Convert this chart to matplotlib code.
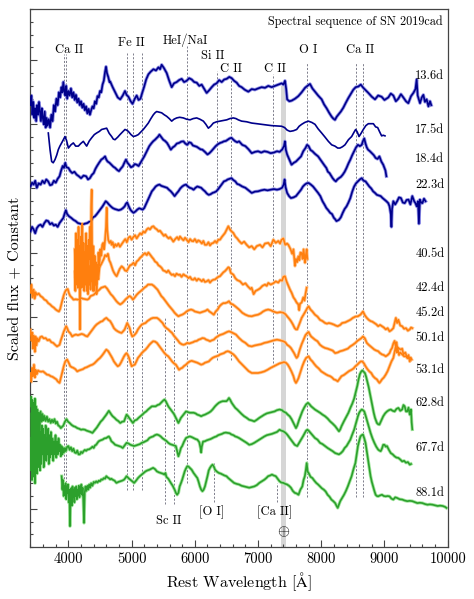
import numpy as np
import matplotlib
matplotlib.use('Agg')
import matplotlib.pyplot as plt
from matplotlib.ticker import MultipleLocator
from matplotlib.transforms import blended_transform_factory

plt.rcParams['font.family'] = 'serif'
plt.rcParams['font.serif'] = ['cmr10']
plt.rcParams['mathtext.fontset'] = 'cm'
plt.rcParams['axes.unicode_minus'] = False

# spectra as (rest wavelength [A], scaled flux + constant)
s13_6 = [(3400, 6.30), (3415, 6.45), (3430, 6.15), (3445, 6.35), (3460, 6.10), (3475, 6.25), (3490, 6.05),
         (3505, 6.30), (3520, 6.15), (3535, 6.35), (3550, 6.20), (3565, 6.05), (3580, 6.25), (3595, 6.10),
         (3610, 6.00), (3625, 6.20), (3640, 5.95), (3655, 6.10), (3670, 5.98), (3690, 6.08), (3710, 5.95),
         (3730, 6.15), (3750, 6.05), (3770, 6.30), (3790, 6.20), (3810, 6.40), (3830, 6.30), (3850, 6.50),
         (3870, 6.42), (3890, 6.58), (3905, 6.50), (3920, 6.66), (3935, 6.52), (3950, 6.45), (3965, 6.60),
         (3980, 6.40), (4000, 6.52), (4020, 6.45), (4040, 6.56), (4060, 6.42), (4080, 6.50), (4100, 6.38),
         (4120, 6.46), (4140, 6.34), (4160, 6.40), (4180, 6.30), (4200, 6.36), (4220, 6.26), (4240, 6.32),
         (4260, 6.22), (4280, 6.28), (4300, 6.17), (4320, 6.24), (4340, 6.15), (4360, 6.22), (4380, 6.28),
         (4400, 6.25), (4420, 6.36), (4440, 6.32), (4460, 6.44), (4480, 6.42), (4500, 6.52), (4520, 6.50),
         (4540, 6.62), (4560, 6.68), (4580, 6.82), (4595, 6.90), (4610, 6.80), (4630, 6.74), (4650, 6.66),
         (4660, 6.67), (4700, 6.58), (4740, 6.50), (4780, 6.42), (4820, 6.39), (4860, 6.45), (4895, 6.52),
         (4920, 6.46), (4950, 6.43), (4985, 6.36), (5015, 6.32), (5050, 6.40), (5080, 6.45), (5110, 6.38),
         (5140, 6.40), (5170, 6.50), (5196, 6.58), (5230, 6.70), (5265, 6.78), (5300, 6.82), (5345, 6.86),
         (5385, 6.84), (5425, 6.89), (5450, 6.86), (5475, 6.93), (5510, 6.88), (5555, 6.80), (5595, 6.68),
         (5634, 6.58), (5670, 6.64), (5713, 6.66), (5750, 6.69), (5792, 6.71), (5830, 6.66), (5871, 6.68),
         (5910, 6.72), (5950, 6.70), (5990, 6.66), (6030, 6.65), (6070, 6.60), (6108, 6.62), (6150, 6.55),
         (6187, 6.49), (6225, 6.53), (6267, 6.58), (6305, 6.62), (6345, 6.64), (6385, 6.69), (6425, 6.66),
         (6465, 6.70), (6504, 6.71), (6545, 6.74), (6583, 6.72), (6620, 6.68), (6662, 6.65), (6700, 6.60),
         (6740, 6.58), (6790, 6.54), (6846, 6.51), (6900, 6.55), (6951, 6.54), (7000, 6.56), (7057, 6.58),
         (7110, 6.57), (7162, 6.60), (7215, 6.58), (7268, 6.60), (7320, 6.62), (7373, 6.64), (7400, 6.62),
         (7426, 6.68), (7445, 6.55), (7460, 6.39), (7495, 6.36), (7532, 6.37), (7585, 6.40), (7637, 6.44),
         (7690, 6.50), (7743, 6.57), (7780, 6.60), (7822, 6.63), (7860, 6.56), (7901, 6.51), (7950, 6.45),
         (8006, 6.39), (8045, 6.31), (8085, 6.25), (8125, 6.18), (8164, 6.12), (8190, 6.09), (8217, 6.07),
         (8245, 6.12), (8270, 6.15), (8310, 6.20), (8349, 6.26), (8390, 6.34), (8428, 6.41), (8470, 6.48),
         (8507, 6.54), (8545, 6.58), (8586, 6.59), (8625, 6.62), (8665, 6.57), (8705, 6.53), (8745, 6.49),
         (8800, 6.43), (8850, 6.39), (8900, 6.45), (8955, 6.43), (9000, 6.38), (9061, 6.42), (9100, 6.48),
         (9140, 6.45), (9180, 6.36), (9219, 6.40), (9260, 6.47), (9298, 6.42), (9340, 6.36), (9377, 6.33),
         (9420, 6.44), (9457, 6.49), (9490, 6.55), (9509, 6.70), (9525, 6.45), (9562, 6.33), (9590, 6.42),
         (9615, 6.46), (9640, 6.35), (9667, 6.39), (9695, 6.28), (9720, 6.36), (9740, 6.30)]

s17_5 = [(3682, 5.865), (3710, 5.60), (3735, 5.42), (3760, 5.40), (3788, 5.45), (3815, 5.52), (3840, 5.605),
         (3865, 5.66), (3893, 5.71), (3920, 5.76), (3946, 5.81), (3970, 5.75), (4000, 5.63), (4040, 5.68),
         (4078, 5.71), (4115, 5.66), (4157, 5.66), (4195, 5.70), (4236, 5.735), (4260, 5.70), (4289, 5.66),
         (4330, 5.74), (4368, 5.79), (4410, 5.84), (4447, 5.865), (4490, 5.89), (4526, 5.92), (4565, 5.93),
         (4605, 5.94), (4645, 5.86), (4684, 5.81), (4710, 5.77), (4737, 5.76), (4780, 5.80), (4816, 5.84),
         (4855, 5.88), (4895, 5.92), (4920, 5.91), (4948, 5.89), (4990, 5.84), (5027, 5.81), (5065, 5.82),
         (5106, 5.84), (5145, 5.88), (5185, 5.92), (5225, 5.97), (5264, 6.02), (5305, 6.09), (5344, 6.15),
         (5370, 6.18), (5396, 6.20), (5435, 6.19), (5475, 6.18), (5515, 6.15), (5555, 6.125), (5595, 6.09),
         (5634, 6.05), (5670, 6.08), (5713, 6.10), (5760, 6.11), (5818, 6.10), (5870, 6.08), (5924, 6.07),
         (5975, 6.09), (6029, 6.10), (6080, 6.08), (6135, 6.05), (6175, 6.00), (6214, 5.94), (6250, 5.97),
         (6293, 6.02), (6345, 6.04), (6398, 6.05), (6450, 6.06), (6504, 6.07), (6555, 6.09), (6609, 6.10),
         (6650, 6.09), (6688, 6.07), (6740, 6.05), (6820, 6.04), (6899, 6.02), (6980, 6.01), (7057, 6.00),
         (7135, 5.99), (7215, 5.98), (7295, 5.975), (7373, 5.97), (7420, 5.95), (7460, 5.91), (7505, 5.89),
         (7560, 5.90), (7611, 5.92), (7650, 5.97), (7690, 6.00), (7740, 6.03), (7795, 6.05), (7850, 6.03),
         (7901, 6.00), (7950, 5.93), (8006, 5.865), (8060, 5.80), (8112, 5.735), (8165, 5.68), (8217, 5.66),
         (8260, 5.63), (8296, 5.63), (8335, 5.65), (8375, 5.68), (8430, 5.76), (8481, 5.81), (8520, 5.88),
         (8544, 5.92), (8570, 5.88), (8597, 5.81), (8630, 5.86), (8665, 5.92), (8705, 5.98), (8745, 6.01),
         (8790, 6.01), (8824, 6.01), (8860, 5.96), (8892, 5.95), (8925, 5.88), (8955, 5.82), (8980, 5.83),
         (9008, 5.82)]

s18_4 = [(3400, 5.03), (3425, 5.09), (3450, 5.06), (3475, 5.12), (3500, 5.01), (3530, 5.08), (3560, 5.06),
         (3590, 5.12), (3620, 5.08), (3650, 5.14), (3680, 5.11), (3710, 5.05), (3740, 5.06), (3770, 5.12),
         (3800, 5.09), (3830, 5.15), (3860, 5.19), (3885, 5.28), (3910, 5.35), (3930, 5.32), (3950, 5.40),
         (3970, 5.33), (4000, 5.32), (4030, 5.27), (4060, 5.24), (4095, 5.26), (4130, 5.215), (4165, 5.19),
         (4200, 5.16), (4240, 5.20), (4280, 5.19), (4310, 5.14), (4340, 5.16), (4370, 5.21), (4400, 5.24),
         (4425, 5.30), (4450, 5.345), (4485, 5.40), (4520, 5.45), (4550, 5.47), (4580, 5.50), (4600, 5.45),
         (4620, 5.42), (4650, 5.40), (4680, 5.37), (4710, 5.34), (4740, 5.32), (4770, 5.29), (4800, 5.27),
         (4830, 5.31), (4860, 5.345), (4885, 5.40), (4910, 5.45), (4935, 5.40), (4960, 5.37), (4990, 5.33),
         (5020, 5.345), (5050, 5.38), (5080, 5.37), (5110, 5.35), (5140, 5.40), (5170, 5.45), (5200, 5.50),
         (5240, 5.58), (5280, 5.66), (5310, 5.70), (5340, 5.735), (5370, 5.76), (5400, 5.79), (5420, 5.81),
         (5440, 5.84), (5470, 5.80), (5500, 5.76), (5530, 5.74), (5560, 5.71), (5590, 5.66), (5620, 5.605),
         (5650, 5.64), (5680, 5.66), (5715, 5.70), (5750, 5.71), (5785, 5.73), (5820, 5.735), (5850, 5.70),
         (5880, 5.68), (5910, 5.72), (5940, 5.71), (5970, 5.67), (6000, 5.66), (6030, 5.65), (6060, 5.63),
         (6090, 5.61), (6120, 5.605), (6160, 5.57), (6200, 5.53), (6230, 5.55), (6260, 5.58), (6295, 5.62),
         (6330, 5.66), (6365, 5.69), (6400, 5.71), (6430, 5.72), (6460, 5.735), (6490, 5.74), (6520, 5.76),
         (6550, 5.78), (6580, 5.79), (6610, 5.76), (6640, 5.735), (6670, 5.72), (6700, 5.735), (6750, 5.68),
         (6800, 5.66), (6850, 5.61), (6900, 5.55), (6950, 5.57), (7000, 5.58), (7050, 5.56), (7100, 5.58),
         (7150, 5.57), (7200, 5.55), (7250, 5.56), (7300, 5.58), (7340, 5.57), (7380, 5.605), (7410, 5.66),
         (7425, 5.735), (7440, 5.60), (7460, 5.53), (7495, 5.45), (7530, 5.37), (7565, 5.40), (7600, 5.42),
         (7640, 5.46), (7680, 5.50), (7715, 5.58), (7750, 5.63), (7775, 5.68), (7800, 5.66), (7830, 5.60),
         (7860, 5.58), (7900, 5.54), (7950, 5.50), (7985, 5.45), (8020, 5.40), (8050, 5.36), (8080, 5.32),
         (8105, 5.26), (8130, 5.24), (8155, 5.20), (8180, 5.16), (8205, 5.13), (8230, 5.11), (8255, 5.14),
         (8280, 5.16), (8310, 5.18), (8340, 5.215), (8370, 5.26), (8400, 5.32), (8430, 5.39), (8460, 5.45),
         (8490, 5.52), (8520, 5.58), (8550, 5.64), (8580, 5.68), (8610, 5.66), (8640, 5.68), (8660, 5.74),
         (8680, 5.78), (8700, 5.70), (8720, 5.64), (8740, 5.605), (8770, 5.58), (8800, 5.55), (8830, 5.52),
         (8860, 5.475), (8890, 5.46), (8920, 5.50), (8950, 5.42), (8980, 5.37), (9000, 5.32), (9015, 5.28),
         (9030, 5.19)]

s22_3 = [(3400, 4.33), (3425, 4.40), (3450, 4.36), (3475, 4.30), (3500, 4.38), (3530, 4.42), (3560, 4.435),
         (3590, 4.40), (3620, 4.46), (3650, 4.50), (3680, 4.49), (3710, 4.44), (3740, 4.46), (3770, 4.42),
         (3800, 4.435), (3830, 4.40), (3860, 4.46), (3890, 4.50), (3920, 4.54), (3945, 4.62), (3960, 4.66),
         (3980, 4.60), (4010, 4.565), (4045, 4.54), (4080, 4.51), (4115, 4.49), (4150, 4.46), (4185, 4.45),
         (4220, 4.435), (4260, 4.45), (4300, 4.46), (4330, 4.48), (4360, 4.49), (4390, 4.55), (4420, 4.565),
         (4450, 4.60), (4480, 4.64), (4510, 4.68), (4540, 4.72), (4565, 4.76), (4590, 4.80), (4615, 4.78),
         (4640, 4.75), (4670, 4.72), (4700, 4.695), (4730, 4.68), (4760, 4.67), (4795, 4.66), (4830, 4.67),
         (4860, 4.69), (4890, 4.72), (4910, 4.76), (4930, 4.78), (4955, 4.72), (4980, 4.67), (5005, 4.64),
         (5030, 4.62), (5060, 4.64), (5090, 4.67), (5120, 4.69), (5150, 4.68), (5175, 4.67), (5200, 4.695),
         (5230, 4.76), (5260, 4.825), (5290, 4.89), (5320, 4.955), (5350, 4.99), (5380, 5.03), (5410, 5.05),
         (5440, 5.06), (5470, 5.04), (5500, 5.03), (5530, 5.02), (5560, 5.01), (5590, 4.98), (5620, 4.955),
         (5650, 4.92), (5680, 4.88), (5710, 4.92), (5740, 4.955), (5770, 5.00), (5800, 5.03), (5830, 5.05),
         (5860, 5.06), (5890, 5.03), (5920, 5.01), (5950, 5.00), (5980, 4.98), (6010, 5.01), (6040, 5.03),
         (6070, 5.02), (6100, 5.01), (6130, 4.98), (6160, 4.955), (6190, 4.92), (6220, 4.90), (6250, 4.91),
         (6280, 4.93), (6310, 4.94), (6340, 4.955), (6370, 4.99), (6400, 5.03), (6430, 5.07), (6460, 5.11),
         (6490, 5.12), (6520, 5.14), (6550, 5.15), (6580, 5.16), (6610, 5.13), (6640, 5.11), (6670, 5.07),
         (6700, 5.06), (6750, 5.03), (6800, 5.01), (6850, 4.97), (6900, 4.93), (6950, 4.95), (7000, 4.955),
         (7050, 4.97), (7100, 4.98), (7150, 4.97), (7200, 4.98), (7250, 4.99), (7300, 4.98), (7340, 4.99),
         (7380, 5.01), (7405, 5.06), (7420, 5.14), (7435, 5.02), (7460, 4.93), (7490, 4.88), (7520, 4.85),
         (7560, 4.86), (7600, 4.88), (7640, 4.93), (7680, 4.98), (7710, 5.03), (7740, 5.06), (7770, 5.08),
         (7800, 5.085), (7835, 5.06), (7870, 5.03), (7910, 4.98), (7950, 4.93), (7985, 4.88), (8020, 4.80),
         (8050, 4.75), (8080, 4.695), (8110, 4.66), (8140, 4.62), (8170, 4.60), (8200, 4.54), (8220, 4.52),
         (8240, 4.49), (8260, 4.50), (8280, 4.51), (8310, 4.55), (8340, 4.62), (8370, 4.68), (8400, 4.72),
         (8430, 4.78), (8460, 4.85), (8490, 4.95), (8520, 5.03), (8550, 5.08), (8580, 5.11), (8610, 5.14),
         (8640, 5.16), (8670, 5.12), (8700, 5.11), (8730, 5.07), (8760, 5.03), (8790, 5.00), (8820, 4.955),
         (8850, 4.93), (8880, 4.90), (8910, 4.89), (8940, 4.88), (8970, 4.85), (9000, 4.825), (9030, 4.80),
         (9060, 4.77), (9080, 4.72), (9100, 4.60), (9110, 4.40), (9120, 4.68), (9140, 4.80), (9170, 4.75),
         (9200, 4.80), (9230, 4.86), (9260, 4.85), (9290, 4.78), (9320, 4.77), (9350, 4.82), (9380, 4.825),
         (9410, 4.75), (9440, 4.88), (9470, 4.80), (9490, 4.77), (9510, 4.72), (9530, 4.80), (9545, 4.45),
         (9560, 4.825), (9580, 4.78), (9600, 4.77), (9625, 4.84), (9650, 4.80)]

s40_5 = [(4100, 4.05), (4110, 3.60), (4120, 4.30), (4130, 3.80), (4140, 4.20), (4150, 3.55), (4160, 4.40),
         (4170, 3.70), (4180, 4.10), (4190, 3.50), (4200, 4.25), (4210, 3.85), (4220, 4.45), (4230, 3.60),
         (4240, 4.15), (4250, 3.45), (4260, 4.00), (4270, 3.75), (4280, 4.30), (4290, 3.65), (4300, 4.10),
         (4310, 3.55), (4320, 4.20), (4330, 3.90), (4340, 4.40), (4350, 3.70), (4360, 4.70), (4368, 4.98),
         (4375, 4.00), (4385, 3.60), (4395, 4.10), (4405, 3.40), (4415, 3.95), (4425, 3.50), (4435, 3.85),
         (4445, 3.35), (4455, 3.80), (4465, 3.60), (4475, 4.00), (4490, 3.80), (4505, 4.05), (4520, 3.95),
         (4535, 4.12), (4550, 4.15), (4565, 4.05), (4580, 4.20), (4595, 4.40), (4605, 4.70), (4615, 4.35),
         (4630, 4.20), (4650, 4.15), (4670, 4.18), (4684, 4.12), (4700, 4.16), (4720, 4.08), (4740, 4.13),
         (4763, 4.10), (4790, 4.14), (4815, 4.09), (4842, 4.13), (4870, 4.17), (4900, 4.21), (4925, 4.16),
         (4948, 4.23), (4975, 4.25), (5000, 4.20), (5027, 4.24), (5055, 4.27), (5080, 4.22), (5106, 4.26),
         (5135, 4.30), (5160, 4.28), (5185, 4.33), (5210, 4.31), (5240, 4.36), (5264, 4.38), (5290, 4.36),
         (5320, 4.40), (5344, 4.41), (5370, 4.38), (5400, 4.36), (5425, 4.33), (5449, 4.34), (5480, 4.30),
         (5510, 4.26), (5535, 4.28), (5555, 4.25), (5585, 4.22), (5610, 4.24), (5640, 4.20), (5660, 4.17),
         (5690, 4.21), (5720, 4.24), (5745, 4.20), (5765, 4.25), (5790, 4.22), (5820, 4.19), (5845, 4.23),
         (5871, 4.20), (5900, 4.16), (5925, 4.21), (5950, 4.18), (5976, 4.175), (6000, 4.21), (6030, 4.16),
         (6055, 4.19), (6082, 4.175), (6110, 4.14), (6135, 4.18), (6160, 4.12), (6187, 4.12), (6215, 4.16),
         (6240, 4.11), (6265, 4.14), (6293, 4.15), (6320, 4.18), (6345, 4.15), (6370, 4.20), (6398, 4.20),
         (6425, 4.24), (6450, 4.27), (6477, 4.305), (6505, 4.36), (6530, 4.41), (6555, 4.36), (6580, 4.33),
         (6609, 4.305), (6640, 4.25), (6670, 4.22), (6700, 4.18), (6740, 4.14), (6780, 4.17), (6820, 4.12),
         (6860, 4.08), (6899, 4.10), (6940, 4.05), (6980, 4.10), (7031, 4.12), (7070, 4.08), (7110, 4.14),
         (7162, 4.15), (7200, 4.10), (7242, 4.20), (7280, 4.15), (7320, 4.18), (7348, 4.14), (7373, 4.20),
         (7400, 4.22), (7430, 4.12), (7460, 4.14), (7479, 4.12), (7510, 4.06), (7540, 3.98), (7560, 4.05),
         (7584, 3.79), (7600, 3.90), (7620, 3.85), (7637, 3.94), (7655, 3.88), (7670, 4.00), (7690, 3.99),
         (7705, 3.90), (7720, 4.05), (7743, 3.84), (7755, 3.95), (7769, 4.05), (7780, 3.90)]

s42_4 = [(4100, 3.70), (4110, 3.40), (4120, 3.85), (4130, 3.50), (4140, 3.90), (4150, 3.45), (4160, 3.75),
         (4170, 3.55), (4178, 3.40), (4183, 2.80), (4188, 3.50), (4200, 3.80), (4210, 3.45), (4220, 3.90),
         (4230, 3.55), (4240, 3.80), (4250, 3.40), (4260, 3.85), (4270, 3.50), (4280, 3.75), (4290, 3.40),
         (4300, 3.65), (4310, 3.35), (4320, 3.80), (4330, 3.50), (4340, 3.70), (4350, 3.42), (4360, 3.75),
         (4370, 3.55), (4380, 3.65), (4390, 3.40), (4400, 3.60), (4415, 3.48), (4430, 3.62), (4445, 3.50),
         (4460, 3.70), (4475, 3.58), (4490, 3.75), (4500, 3.785), (4520, 3.82), (4540, 3.86), (4560, 3.90),
         (4580, 3.96), (4605, 3.94), (4625, 3.98), (4645, 3.88), (4665, 3.84), (4684, 3.785), (4705, 3.72),
         (4725, 3.68), (4745, 3.65), (4763, 3.63), (4785, 3.68), (4810, 3.74), (4842, 3.785), (4870, 3.76),
         (4895, 3.72), (4922, 3.71), (4950, 3.76), (4975, 3.80), (5000, 3.81), (5030, 3.84), (5055, 3.80),
         (5080, 3.86), (5106, 3.88), (5132, 3.915), (5160, 3.94), (5185, 3.97), (5211, 3.99), (5240, 3.96),
         (5265, 4.00), (5290, 3.97), (5320, 3.93), (5345, 3.90), (5370, 3.86), (5400, 3.84), (5425, 3.80),
         (5449, 3.785), (5475, 3.76), (5500, 3.72), (5528, 3.71), (5555, 3.69), (5580, 3.72), (5607, 3.68),
         (5635, 3.65), (5660, 3.66), (5686, 3.63), (5710, 3.67), (5740, 3.65), (5765, 3.655), (5790, 3.62),
         (5820, 3.66), (5845, 3.64), (5871, 3.63), (5900, 3.60), (5925, 3.62), (5950, 3.58), (5976, 3.575),
         (6000, 3.60), (6030, 3.56), (6055, 3.59), (6082, 3.575), (6110, 3.55), (6135, 3.58), (6160, 3.54),
         (6187, 3.55), (6215, 3.57), (6240, 3.53), (6265, 3.56), (6293, 3.575), (6320, 3.58), (6345, 3.60),
         (6370, 3.62), (6398, 3.63), (6425, 3.66), (6450, 3.69), (6477, 3.71), (6505, 3.74), (6530, 3.77),
         (6546, 3.76), (6570, 3.68), (6609, 3.655), (6640, 3.60), (6670, 3.57), (6715, 3.55), (6760, 3.50),
         (6800, 3.52), (6840, 3.47), (6880, 3.43), (6899, 3.45), (6930, 3.35), (6960, 3.40), (7000, 3.42),
         (7031, 3.44), (7070, 3.48), (7110, 3.50), (7137, 3.48), (7162, 3.525), (7200, 3.50), (7242, 3.52),
         (7280, 3.55), (7320, 3.53), (7348, 3.57), (7380, 3.56), (7400, 3.62), (7426, 3.63), (7450, 3.55),
         (7480, 3.48), (7506, 3.42), (7532, 3.37), (7560, 3.30), (7585, 3.265), (7610, 3.22), (7637, 3.19),
         (7650, 3.10), (7664, 3.20), (7690, 3.22), (7716, 3.30), (7735, 3.25), (7750, 3.35), (7769, 3.45)]

s45_2 = [(3400, 3.37), (3415, 3.50), (3430, 3.30), (3450, 3.42), (3465, 3.28), (3480, 3.38), (3500, 3.34),
         (3530, 3.36), (3560, 3.32), (3590, 3.30), (3620, 3.265), (3650, 3.25), (3680, 3.21), (3710, 3.19),
         (3740, 3.16), (3770, 3.14), (3800, 3.11), (3830, 3.09), (3850, 3.08), (3870, 3.12), (3900, 3.24),
         (3925, 3.33), (3950, 3.395), (3970, 3.42), (3990, 3.43), (4010, 3.36), (4030, 3.32), (4060, 3.29),
         (4080, 3.265), (4115, 3.27), (4150, 3.265), (4175, 3.27), (4185, 3.28), (4200, 3.29), (4225, 3.28),
         (4250, 3.275), (4275, 3.27), (4300, 3.265), (4325, 3.28), (4350, 3.32), (4375, 3.33), (4400, 3.34),
         (4430, 3.37), (4460, 3.395), (4490, 3.42), (4520, 3.45), (4550, 3.46), (4580, 3.47), (4610, 3.44),
         (4640, 3.395), (4670, 3.35), (4700, 3.32), (4730, 3.28), (4760, 3.24), (4790, 3.21), (4820, 3.19),
         (4850, 3.21), (4880, 3.24), (4905, 3.27), (4930, 3.29), (4950, 3.31), (4970, 3.32), (4995, 3.30),
         (5020, 3.265), (5050, 3.30), (5080, 3.34), (5110, 3.37), (5140, 3.395), (5170, 3.42), (5200, 3.45),
         (5230, 3.47), (5260, 3.50), (5290, 3.50), (5320, 3.50), (5350, 3.48), (5380, 3.45), (5410, 3.42),
         (5440, 3.37), (5470, 3.32), (5500, 3.29), (5530, 3.25), (5560, 3.21), (5590, 3.17), (5620, 3.135),
         (5650, 3.10), (5680, 3.06), (5710, 3.03), (5740, 3.005), (5770, 3.02), (5800, 3.03), (5835, 3.05),
         (5870, 3.08), (5905, 3.10), (5940, 3.11), (5970, 3.10), (6000, 3.08), (6040, 3.07), (6080, 3.06),
         (6110, 3.07), (6140, 3.08), (6170, 3.09), (6200, 3.11), (6230, 3.08), (6260, 3.06), (6300, 3.03),
         (6330, 3.08), (6360, 3.11), (6390, 3.16), (6420, 3.19), (6450, 3.21), (6480, 3.21), (6510, 3.22),
         (6540, 3.24), (6570, 3.20), (6600, 3.19), (6640, 3.16), (6700, 3.11), (6750, 3.06), (6800, 3.03),
         (6850, 3.01), (6900, 3.005), (6950, 3.02), (7000, 3.03), (7040, 3.05), (7080, 3.08), (7120, 3.10),
         (7160, 3.11), (7200, 3.10), (7240, 3.08), (7270, 3.07), (7300, 3.06), (7350, 3.07), (7400, 3.06),
         (7430, 3.04), (7460, 3.005), (7490, 2.97), (7520, 2.93), (7550, 2.88), (7580, 2.82), (7600, 2.80),
         (7620, 2.80), (7640, 2.85), (7660, 2.90), (7690, 2.98), (7720, 3.03), (7750, 3.08), (7780, 3.135),
         (7800, 3.16), (7830, 3.11), (7860, 3.08), (7900, 3.03), (7940, 3.00), (7980, 2.95), (8020, 2.93),
         (8060, 2.90), (8090, 2.89), (8120, 2.90), (8160, 2.89), (8200, 2.875), (8230, 2.86), (8260, 2.85),
         (8300, 2.87), (8330, 2.90), (8380, 2.91), (8420, 2.93), (8460, 2.95), (8500, 2.98), (8540, 3.00),
         (8580, 3.005), (8620, 3.03), (8660, 3.08), (8690, 3.02), (8720, 2.98), (8750, 2.95), (8780, 2.93),
         (8810, 2.92), (8840, 2.90), (8870, 2.88), (8900, 2.85), (8930, 2.87), (8960, 2.85), (8990, 2.83),
         (9020, 2.80), (9050, 2.82), (9080, 2.77), (9110, 2.79), (9140, 2.82), (9160, 2.90), (9180, 2.98),
         (9200, 2.90), (9220, 2.95), (9250, 2.86), (9280, 2.85), (9310, 2.81), (9340, 2.82), (9370, 2.78),
         (9400, 2.80), (9420, 2.83), (9440, 2.82)]

s50_1 = [(3400, 2.80), (3415, 2.62), (3430, 2.75), (3440, 2.50), (3455, 2.70), (3470, 2.45), (3480, 2.69),
         (3495, 2.55), (3510, 2.66), (3530, 2.615), (3555, 2.68), (3580, 2.69), (3610, 2.66), (3640, 2.665),
         (3670, 2.63), (3700, 2.64), (3730, 2.60), (3760, 2.59), (3790, 2.56), (3820, 2.535), (3860, 2.56),
         (3880, 2.63), (3900, 2.69), (3925, 2.76), (3950, 2.82), (3965, 2.85), (3980, 2.82), (4000, 2.77),
         (4030, 2.74), (4060, 2.69), (4090, 2.71), (4120, 2.72), (4150, 2.71), (4180, 2.72), (4210, 2.73),
         (4240, 2.72), (4270, 2.70), (4300, 2.69), (4330, 2.73), (4360, 2.77), (4390, 2.81), (4420, 2.85),
         (4450, 2.88), (4480, 2.90), (4510, 2.92), (4540, 2.93), (4570, 2.96), (4600, 2.98), (4630, 2.95),
         (4660, 2.93), (4690, 2.88), (4720, 2.82), (4750, 2.79), (4780, 2.77), (4810, 2.755), (4840, 2.745),
         (4865, 2.77), (4890, 2.80), (4910, 2.85), (4930, 2.90), (4950, 2.86), (4970, 2.82), (4990, 2.74),
         (5010, 2.69), (5030, 2.70), (5050, 2.72), (5075, 2.75), (5100, 2.80), (5130, 2.84), (5160, 2.875),
         (5190, 2.89), (5220, 2.90), (5250, 2.93), (5280, 2.95), (5310, 2.97), (5340, 2.98), (5370, 2.98),
         (5400, 2.98), (5430, 2.96), (5460, 2.93), (5490, 2.90), (5520, 2.85), (5550, 2.82), (5580, 2.80),
         (5610, 2.77), (5640, 2.745), (5670, 2.70), (5700, 2.665), (5730, 2.63), (5760, 2.59), (5790, 2.57),
         (5820, 2.56), (5850, 2.57), (5880, 2.59), (5910, 2.58), (5940, 2.59), (5970, 2.60), (6000, 2.615),
         (6030, 2.62), (6060, 2.64), (6090, 2.65), (6120, 2.665), (6150, 2.66), (6180, 2.64), (6210, 2.63),
         (6240, 2.615), (6270, 2.63), (6300, 2.64), (6330, 2.67), (6360, 2.69), (6390, 2.71), (6420, 2.72),
         (6450, 2.73), (6480, 2.745), (6510, 2.76), (6540, 2.77), (6570, 2.76), (6600, 2.745), (6650, 2.72),
         (6700, 2.665), (6750, 2.62), (6800, 2.59), (6850, 2.545), (6900, 2.535), (6950, 2.55), (7000, 2.56),
         (7050, 2.57), (7100, 2.59), (7150, 2.60), (7200, 2.615), (7250, 2.63), (7300, 2.64), (7350, 2.63),
         (7400, 2.615), (7430, 2.60), (7460, 2.56), (7490, 2.54), (7520, 2.51), (7545, 2.47), (7570, 2.43),
         (7590, 2.39), (7610, 2.355), (7630, 2.38), (7660, 2.485), (7690, 2.57), (7720, 2.64), (7750, 2.71),
         (7780, 2.745), (7800, 2.76), (7820, 2.72), (7840, 2.69), (7870, 2.665), (7900, 2.64), (7940, 2.615),
         (7980, 2.56), (8020, 2.53), (8060, 2.51), (8100, 2.50), (8140, 2.485), (8180, 2.47), (8220, 2.43),
         (8260, 2.44), (8300, 2.46), (8340, 2.47), (8380, 2.485), (8420, 2.50), (8460, 2.535), (8500, 2.56),
         (8540, 2.59), (8570, 2.62), (8600, 2.64), (8630, 2.66), (8660, 2.69), (8690, 2.66), (8720, 2.59),
         (8750, 2.56), (8780, 2.535), (8810, 2.51), (8840, 2.485), (8870, 2.47), (8900, 2.46), (8930, 2.43),
         (8960, 2.41), (8990, 2.40), (9020, 2.38), (9050, 2.40), (9080, 2.43), (9100, 2.48), (9120, 2.51),
         (9140, 2.58), (9160, 2.62), (9175, 2.55), (9190, 2.60), (9200, 2.53), (9230, 2.50), (9260, 2.485),
         (9280, 2.50), (9300, 2.41), (9330, 2.44), (9360, 2.355), (9380, 2.40), (9400, 2.30), (9415, 2.36),
         (9430, 2.33)]

s53_1 = [(3400, 2.12), (3412, 1.98), (3425, 2.20), (3440, 2.07), (3455, 2.25), (3470, 2.05), (3480, 2.17),
         (3500, 2.10), (3520, 2.16), (3540, 2.145), (3570, 2.14), (3600, 2.145), (3630, 2.12), (3660, 2.095),
         (3690, 2.09), (3720, 2.07), (3750, 2.06), (3780, 2.04), (3810, 2.02), (3830, 1.99), (3860, 1.965),
         (3880, 2.04), (3900, 2.12), (3925, 2.22), (3950, 2.30), (3980, 2.33), (4005, 2.28), (4030, 2.225),
         (4055, 2.21), (4080, 2.20), (4110, 2.18), (4140, 2.145), (4170, 2.16), (4200, 2.17), (4230, 2.18),
         (4260, 2.20), (4290, 2.21), (4320, 2.225), (4350, 2.24), (4380, 2.25), (4410, 2.27), (4440, 2.30),
         (4470, 2.33), (4500, 2.355), (4530, 2.39), (4560, 2.43), (4580, 2.46), (4600, 2.485), (4630, 2.46),
         (4660, 2.41), (4690, 2.36), (4720, 2.30), (4750, 2.26), (4780, 2.225), (4805, 2.24), (4830, 2.28),
         (4855, 2.33), (4880, 2.38), (4900, 2.41), (4920, 2.43), (4940, 2.40), (4960, 2.355), (4980, 2.29),
         (5000, 2.225), (5025, 2.24), (5050, 2.25), (5075, 2.30), (5100, 2.355), (5130, 2.39), (5160, 2.43),
         (5190, 2.46), (5220, 2.485), (5250, 2.52), (5280, 2.56), (5310, 2.59), (5340, 2.615), (5370, 2.61),
         (5400, 2.59), (5430, 2.55), (5460, 2.51), (5490, 2.47), (5520, 2.43), (5550, 2.40), (5580, 2.38),
         (5610, 2.34), (5640, 2.30), (5670, 2.27), (5700, 2.25), (5725, 2.21), (5750, 2.17), (5775, 2.19),
         (5800, 2.20), (5830, 2.23), (5860, 2.25), (5890, 2.28), (5920, 2.30), (5950, 2.31), (5980, 2.30),
         (6010, 2.29), (6040, 2.28), (6070, 2.265), (6100, 2.25), (6130, 2.26), (6160, 2.28), (6190, 2.29),
         (6220, 2.30), (6250, 2.33), (6280, 2.355), (6310, 2.37), (6340, 2.38), (6370, 2.39), (6400, 2.41),
         (6430, 2.42), (6460, 2.43), (6490, 2.45), (6520, 2.46), (6550, 2.45), (6580, 2.43), (6610, 2.41),
         (6640, 2.38), (6670, 2.34), (6700, 2.30), (6750, 2.25), (6800, 2.20), (6850, 2.15), (6900, 2.12),
         (6950, 2.12), (7000, 2.12), (7050, 2.13), (7100, 2.145), (7150, 2.17), (7200, 2.20), (7250, 2.225),
         (7300, 2.25), (7340, 2.27), (7380, 2.28), (7410, 2.29), (7440, 2.28), (7470, 2.25), (7500, 2.20),
         (7530, 2.14), (7560, 2.07), (7580, 2.00), (7600, 1.965), (7620, 2.00), (7640, 2.04), (7670, 2.13),
         (7700, 2.225), (7730, 2.30), (7760, 2.355), (7800, 2.38), (7830, 2.33), (7860, 2.30), (7890, 2.26),
         (7920, 2.225), (7960, 2.19), (8000, 2.145), (8040, 2.12), (8080, 2.095), (8110, 2.08), (8140, 2.07),
         (8170, 2.05), (8200, 2.02), (8230, 2.01), (8260, 1.99), (8290, 2.03), (8320, 2.07), (8360, 2.09),
         (8400, 2.12), (8440, 2.15), (8480, 2.17), (8510, 2.19), (8540, 2.225), (8570, 2.25), (8600, 2.28),
         (8625, 2.30), (8650, 2.30), (8675, 2.27), (8700, 2.225), (8730, 2.18), (8760, 2.145), (8790, 2.12),
         (8820, 2.07), (8850, 2.04), (8880, 2.02), (8900, 1.99), (8920, 1.965), (8940, 1.99), (8960, 2.02),
         (8990, 2.05), (9020, 2.095), (9050, 2.15), (9080, 2.225), (9110, 2.30), (9140, 2.355), (9160, 2.45),
         (9180, 2.54), (9195, 2.44), (9210, 2.50), (9230, 2.40), (9250, 2.44), (9280, 2.41), (9310, 2.38),
         (9340, 2.38), (9370, 2.35), (9400, 2.36), (9420, 2.33)]

s62_8 = [(3400, 1.60), (3410, 1.75), (3420, 1.40), (3430, 1.70), (3440, 1.25), (3450, 1.65), (3460, 1.35),
         (3470, 1.72), (3480, 1.30), (3490, 1.60), (3500, 1.40), (3510, 1.55), (3520, 1.30), (3530, 1.50),
         (3545, 1.38), (3560, 1.52), (3575, 1.36), (3590, 1.48), (3605, 1.38), (3620, 1.45), (3640, 1.37),
         (3660, 1.44), (3680, 1.36), (3700, 1.40), (3720, 1.34), (3740, 1.39), (3760, 1.35), (3780, 1.40),
         (3800, 1.33), (3820, 1.36), (3840, 1.30), (3860, 1.29), (3880, 1.26), (3900, 1.28), (3920, 1.30),
         (3945, 1.36), (3970, 1.40), (3995, 1.36), (4020, 1.34), (4050, 1.31), (4080, 1.29), (4110, 1.28),
         (4140, 1.26), (4170, 1.25), (4200, 1.235), (4230, 1.24), (4260, 1.235), (4290, 1.22), (4320, 1.21),
         (4350, 1.20), (4380, 1.185), (4400, 1.21), (4420, 1.235), (4450, 1.27), (4480, 1.315), (4510, 1.36),
         (4540, 1.39), (4570, 1.43), (4600, 1.47), (4620, 1.50), (4640, 1.53), (4660, 1.50), (4680, 1.47),
         (4700, 1.445), (4730, 1.42), (4760, 1.39), (4790, 1.37), (4820, 1.34), (4850, 1.36), (4880, 1.365),
         (4900, 1.42), (4920, 1.47), (4940, 1.45), (4960, 1.42), (4990, 1.38), (5020, 1.34), (5050, 1.38),
         (5080, 1.39), (5110, 1.42), (5140, 1.445), (5170, 1.47), (5200, 1.50), (5230, 1.52), (5260, 1.55),
         (5290, 1.575), (5320, 1.60), (5350, 1.60), (5380, 1.60), (5410, 1.62), (5440, 1.63), (5470, 1.66),
         (5500, 1.69), (5520, 1.705), (5540, 1.68), (5560, 1.64), (5580, 1.60), (5610, 1.56), (5640, 1.52),
         (5670, 1.48), (5700, 1.42), (5720, 1.38), (5740, 1.34), (5760, 1.38), (5780, 1.42), (5800, 1.445),
         (5830, 1.48), (5860, 1.52), (5890, 1.51), (5920, 1.50), (5950, 1.50), (5980, 1.50), (6010, 1.49),
         (6040, 1.47), (6070, 1.46), (6100, 1.445), (6130, 1.46), (6160, 1.47), (6190, 1.485), (6220, 1.50),
         (6250, 1.52), (6280, 1.55), (6300, 1.575), (6320, 1.60), (6350, 1.63), (6380, 1.655), (6410, 1.67),
         (6440, 1.68), (6470, 1.68), (6500, 1.68), (6520, 1.70), (6540, 1.73), (6560, 1.70), (6580, 1.66),
         (6600, 1.63), (6640, 1.575), (6670, 1.55), (6700, 1.52), (6740, 1.48), (6780, 1.445), (6820, 1.42),
         (6860, 1.39), (6900, 1.38), (6940, 1.365), (6980, 1.39), (7020, 1.42), (7060, 1.445), (7100, 1.47),
         (7140, 1.49), (7180, 1.50), (7220, 1.51), (7260, 1.52), (7300, 1.54), (7340, 1.55), (7380, 1.54),
         (7400, 1.52), (7440, 1.50), (7470, 1.47), (7500, 1.445), (7530, 1.40), (7560, 1.34), (7580, 1.30),
         (7600, 1.26), (7620, 1.30), (7650, 1.39), (7680, 1.47), (7700, 1.52), (7730, 1.58), (7760, 1.63),
         (7790, 1.655), (7815, 1.63), (7840, 1.60), (7870, 1.575), (7900, 1.55), (7940, 1.525), (7980, 1.50),
         (8020, 1.47), (8060, 1.445), (8100, 1.41), (8140, 1.365), (8180, 1.33), (8220, 1.29), (8250, 1.25),
         (8280, 1.21), (8300, 1.24), (8320, 1.29), (8360, 1.37), (8400, 1.445), (8430, 1.50), (8460, 1.575),
         (8490, 1.64), (8520, 1.72), (8545, 1.82), (8570, 1.92), (8590, 2.02), (8610, 2.10), (8630, 2.14),
         (8650, 2.16), (8670, 2.14), (8690, 2.12), (8710, 2.06), (8730, 1.98), (8750, 1.90), (8770, 1.80),
         (8790, 1.70), (8810, 1.60), (8830, 1.50), (8850, 1.42), (8880, 1.34), (8900, 1.32), (8920, 1.315),
         (8950, 1.38), (8980, 1.445), (9010, 1.49), (9040, 1.52), (9070, 1.54), (9100, 1.55), (9130, 1.53),
         (9160, 1.52), (9190, 1.56), (9220, 1.575), (9250, 1.53), (9280, 1.55), (9300, 1.62), (9320, 1.60),
         (9340, 1.52), (9360, 1.52), (9380, 1.58), (9400, 1.47), (9420, 1.55), (9430, 1.35), (9440, 1.24)]

s67_7 = [(3400, 1.10), (3408, 0.60), (3416, 1.50), (3424, 0.45), (3432, 1.30), (3440, 0.70), (3448, 1.60),
         (3456, 0.50), (3464, 1.20), (3472, 0.40), (3480, 1.40), (3488, 0.80), (3496, 1.55), (3504, 0.55),
         (3512, 1.25), (3520, 0.65), (3528, 1.35), (3536, 0.75), (3544, 1.45), (3552, 0.60), (3560, 1.20),
         (3570, 0.70), (3580, 1.30), (3590, 0.85), (3600, 1.25), (3610, 0.65), (3620, 1.15), (3630, 0.80),
         (3640, 1.30), (3650, 0.75), (3660, 1.10), (3670, 0.85), (3680, 1.25), (3690, 0.70), (3700, 1.15),
         (3712, 0.80), (3724, 1.20), (3736, 0.85), (3748, 1.10), (3760, 0.75), (3772, 1.05), (3784, 0.85),
         (3796, 1.15), (3808, 0.80), (3820, 1.05), (3832, 0.85), (3844, 1.10), (3856, 0.90), (3868, 1.00),
         (3880, 0.82), (3892, 0.98), (3904, 0.85), (3916, 0.95), (3930, 0.88), (3945, 0.95), (3960, 0.90),
         (3980, 0.97), (4000, 0.98), (4020, 0.92), (4040, 0.96), (4060, 0.90), (4080, 0.94), (4100, 0.88),
         (4120, 0.87), (4140, 0.91), (4160, 0.85), (4180, 0.85), (4200, 0.89), (4220, 0.87), (4240, 0.90),
         (4260, 0.92), (4280, 0.905), (4300, 0.925), (4330, 0.93), (4360, 0.95), (4380, 0.97), (4400, 0.95),
         (4420, 0.99), (4440, 1.00), (4460, 1.03), (4480, 1.055), (4510, 1.07), (4540, 1.08), (4570, 1.10),
         (4600, 1.105), (4620, 1.12), (4640, 1.13), (4660, 1.10), (4680, 1.055), (4710, 1.03), (4740, 1.00),
         (4770, 0.99), (4800, 0.98), (4830, 0.97), (4860, 0.95), (4890, 0.99), (4920, 1.03), (4950, 1.02),
         (4980, 1.00), (5010, 0.99), (5040, 0.98), (5070, 0.99), (5100, 1.00), (5130, 1.01), (5160, 1.03),
         (5190, 1.04), (5220, 1.055), (5250, 1.07), (5280, 1.105), (5310, 1.12), (5340, 1.13), (5370, 1.15),
         (5400, 1.16), (5430, 1.15), (5460, 1.13), (5490, 1.10), (5520, 1.08), (5550, 1.06), (5580, 1.03),
         (5610, 1.01), (5640, 1.00), (5670, 0.99), (5700, 0.98), (5720, 0.90), (5740, 0.82), (5760, 0.88),
         (5780, 0.95), (5800, 0.98), (5830, 1.05), (5860, 1.105), (5890, 1.12), (5920, 1.13), (5950, 1.12),
         (5980, 1.105), (6010, 1.09), (6040, 1.08), (6070, 1.04), (6090, 0.95), (6100, 0.88), (6110, 0.97),
         (6130, 1.05), (6160, 1.055), (6190, 1.07), (6220, 1.08), (6250, 1.09), (6280, 1.105), (6310, 1.12),
         (6340, 1.13), (6370, 1.15), (6400, 1.16), (6430, 1.17), (6460, 1.185), (6490, 1.19), (6520, 1.185),
         (6550, 1.18), (6580, 1.16), (6610, 1.15), (6640, 1.13), (6670, 1.12), (6700, 1.105), (6740, 1.08),
         (6780, 1.055), (6820, 1.03), (6860, 1.00), (6900, 1.01), (6940, 1.03), (6980, 1.055), (7020, 1.08),
         (7060, 1.105), (7100, 1.13), (7140, 1.15), (7180, 1.16), (7220, 1.17), (7260, 1.185), (7300, 1.20),
         (7340, 1.235), (7370, 1.22), (7400, 1.21), (7430, 1.19), (7460, 1.16), (7490, 1.12), (7520, 1.08),
         (7550, 1.04), (7580, 1.00), (7600, 0.99), (7620, 0.98), (7650, 1.03), (7680, 1.08), (7710, 1.13),
         (7740, 1.185), (7760, 1.22), (7780, 1.235), (7800, 1.22), (7830, 1.185), (7860, 1.15), (7900, 1.105),
         (7940, 1.08), (7980, 1.03), (8020, 1.01), (8060, 0.98), (8100, 0.95), (8140, 0.925), (8180, 0.90),
         (8220, 0.87), (8250, 0.86), (8280, 0.85), (8310, 0.87), (8340, 0.90), (8370, 0.95), (8400, 0.98),
         (8430, 1.03), (8460, 1.08), (8490, 1.16), (8520, 1.235), (8550, 1.34), (8580, 1.445), (8600, 1.50),
         (8620, 1.53), (8640, 1.55), (8660, 1.54), (8680, 1.52), (8700, 1.46), (8720, 1.39), (8750, 1.28),
         (8780, 1.185), (8810, 1.10), (8840, 1.03), (8870, 0.97), (8900, 0.925), (8920, 0.91), (8940, 0.90),
         (8960, 0.94), (8980, 1.00), (9000, 1.00), (9020, 0.97), (9040, 0.98), (9070, 0.92), (9100, 0.87),
         (9130, 0.85), (9160, 0.82), (9190, 0.80), (9220, 0.795), (9250, 0.77), (9280, 0.74), (9310, 0.75),
         (9340, 0.72), (9370, 0.73), (9400, 0.69), (9420, 0.70)]

s88_1 = [(3893, 0.51), (3905, 0.30), (3915, 0.45), (3925, 0.20), (3935, 0.35), (3945, 0.28), (3955, 0.40),
         (3965, 0.15), (3975, 0.35), (3985, 0.25), (3995, 0.38), (4005, 0.10), (4015, 0.30), (4025, -0.27),
         (4035, 0.20), (4045, 0.32), (4055, 0.05), (4065, 0.35), (4075, 0.18), (4085, 0.30), (4095, 0.10),
         (4105, 0.33), (4115, 0.20), (4125, 0.35), (4135, 0.15), (4145, 0.30), (4155, 0.22), (4165, 0.36),
         (4175, 0.18), (4185, 0.32), (4195, 0.25), (4205, 0.38), (4215, 0.22), (4225, 0.33), (4235, 0.15),
         (4247, -0.22), (4258, 0.25), (4270, 0.35), (4285, 0.28), (4300, 0.36), (4315, 0.30), (4330, 0.38),
         (4345, 0.33), (4360, 0.40), (4380, 0.36), (4400, 0.42), (4420, 0.405), (4440, 0.43), (4460, 0.41),
         (4480, 0.44), (4500, 0.43), (4520, 0.46), (4540, 0.455), (4560, 0.48), (4580, 0.47), (4600, 0.51),
         (4620, 0.49), (4640, 0.48), (4660, 0.46), (4680, 0.47), (4700, 0.455), (4730, 0.44), (4760, 0.405),
         (4790, 0.42), (4820, 0.43), (4850, 0.44), (4880, 0.455), (4900, 0.48), (4920, 0.51), (4940, 0.49),
         (4960, 0.47), (4980, 0.455), (5010, 0.43), (5040, 0.405), (5070, 0.44), (5100, 0.48), (5130, 0.51),
         (5160, 0.535), (5190, 0.56), (5220, 0.585), (5250, 0.60), (5280, 0.61), (5310, 0.625), (5340, 0.64),
         (5370, 0.62), (5400, 0.585), (5430, 0.57), (5460, 0.56), (5490, 0.55), (5520, 0.535), (5535, 0.56),
         (5550, 0.50), (5580, 0.47), (5620, 0.405), (5650, 0.36), (5680, 0.30), (5700, 0.25), (5720, 0.22),
         (5740, 0.25), (5760, 0.35), (5780, 0.40), (5800, 0.455), (5820, 0.52), (5840, 0.585), (5860, 0.63),
         (5880, 0.665), (5900, 0.66), (5920, 0.64), (5950, 0.61), (5980, 0.56), (6010, 0.52), (6040, 0.48),
         (6060, 0.42), (6080, 0.35), (6100, 0.30), (6120, 0.275), (6140, 0.30), (6160, 0.35), (6180, 0.43),
         (6200, 0.51), (6220, 0.60), (6240, 0.64), (6260, 0.67), (6280, 0.69), (6300, 0.66), (6320, 0.61),
         (6350, 0.58), (6380, 0.56), (6410, 0.55), (6440, 0.535), (6470, 0.52), (6500, 0.51), (6530, 0.48),
         (6560, 0.455), (6590, 0.43), (6620, 0.405), (6660, 0.39), (6700, 0.38), (6740, 0.36), (6780, 0.35),
         (6820, 0.34), (6860, 0.33), (6900, 0.34), (6940, 0.35), (6980, 0.37), (7020, 0.405), (7060, 0.43),
         (7100, 0.455), (7130, 0.48), (7160, 0.51), (7190, 0.52), (7220, 0.535), (7250, 0.52), (7280, 0.51),
         (7310, 0.47), (7340, 0.43), (7370, 0.41), (7400, 0.405), (7430, 0.39), (7460, 0.38), (7490, 0.36),
         (7520, 0.33), (7550, 0.28), (7580, 0.25), (7610, 0.24), (7640, 0.22), (7670, 0.30), (7700, 0.35),
         (7720, 0.45), (7740, 0.51), (7755, 0.60), (7770, 0.715), (7785, 0.58), (7800, 0.56), (7830, 0.50),
         (7860, 0.48), (7890, 0.44), (7920, 0.405), (7950, 0.38), (7980, 0.35), (8010, 0.32), (8040, 0.30),
         (8070, 0.27), (8100, 0.22), (8130, 0.19), (8160, 0.145), (8190, 0.12), (8220, 0.09), (8240, 0.05),
         (8260, 0.015), (8280, 0.07), (8300, 0.12), (8330, 0.17), (8360, 0.22), (8390, 0.28), (8420, 0.35),
         (8450, 0.43), (8480, 0.51), (8510, 0.62), (8540, 0.715), (8560, 0.85), (8580, 0.98), (8600, 1.06),
         (8620, 1.13), (8640, 1.15), (8660, 1.16), (8680, 1.10), (8700, 1.03), (8720, 0.90), (8740, 0.77),
         (8760, 0.65), (8780, 0.51), (8800, 0.42), (8820, 0.35), (8840, 0.28), (8860, 0.22), (8880, 0.20),
         (8900, 0.195), (8930, 0.21), (8960, 0.22), (8990, 0.20), (9020, 0.195), (9050, 0.20), (9080, 0.195),
         (9110, 0.16), (9140, 0.145), (9170, 0.18), (9200, 0.17), (9240, 0.15), (9280, 0.145), (9320, 0.13),
         (9360, 0.12), (9400, 0.125), (9440, 0.12), (9480, 0.105), (9520, 0.09), (9560, 0.095), (9600, 0.09),
         (9640, 0.075), (9680, 0.065), (9720, 0.07), (9760, 0.065), (9800, 0.055), (9840, 0.045),
         (9880, 0.05), (9920, 0.045), (9960, 0.03), (9980, 0.015)]

spectra = [s13_6, s17_5, s18_4, s22_3, s40_5, s42_4, s45_2, s50_1, s53_1, s62_8, s67_7, s88_1]
epochs = ['13.6d', '17.5d', '18.4d', '22.3d', '40.5d', '42.4d', '45.2d', '50.1d', '53.1d',
          '62.8d', '67.7d', '88.1d']
epoch_y = [6.76, 5.92, 5.46, 5.06, 3.97, 3.45, 3.06, 2.67, 2.16, 1.65, 0.95, 0.25]
groups = ['blue', 'blue', 'blue', 'blue', 'orange', 'orange', 'orange', 'orange', 'orange',
          'green', 'green', 'green']
has_err = [True, False, True, True, True, True, True, True, True, True, True, True]

# line identifications (wavelength, top, bottom of the dashed marker)
top_lines = [(3934, 7.09, 0.30), (3968, 7.09, 0.30), (4924, 7.11, 0.30), (5018, 7.11, 0.30),
             (5169, 7.11, 0.30), (5876, 7.22, 0.40), (6355, 6.83, 2.33), (6580, 6.74, 2.33),
             (7234, 6.78, 2.28), (7774, 6.98, 0.19), (8542, 6.98, 0.19), (8662, 6.98, 0.19)]
top_labels = [('Ca II', 4018, 7.16), ('Fe II', 4990, 7.27), ('HeI/NaI', 5846, 7.31), ('Si II', 6280, 7.07),
              ('C II', 6572, 6.87), ('C II', 7275, 6.87), ('O I', 7796, 7.16), ('Ca II', 8622, 7.16)]
bottom_lines = [(5527, 3.0, 0.07), (5663, 3.0, 0.07), (6300, 0.72, 0.10), (7300, 0.41, 0.11)]
bottom_labels = [('Sc II', 5592, -0.19), ('[O I]', 6272, -0.06), ('[Ca II]', 7269, -0.06)]
telluric = (7370, 7440)

dark = {'blue': '#00008b', 'orange': '#ff7f0e', 'green': '#2ca02c'}
light = {'blue': '#9090e6', 'orange': '#ffc896', 'green': '#a4e6a0'}

fig = plt.figure(figsize=(4.74, 5.99), dpi=100)
ax = fig.add_axes([0.0643, 0.0863, 0.8802, 0.8987])

for wl, top, bot in top_lines + bottom_lines:
    ax.plot([wl, wl], [bot, top], color='#6a6a7a', lw=0.6, ls=(0, (2.5, 2)), zorder=1)

ax.fill_between(telluric, -0.6, 6.6, color='#d6d6d6', lw=0, zorder=1.5)

for spec, grp, err in zip(spectra, groups, has_err):
    wl, fl = np.array(spec).T
    if err:
        ax.plot(wl, fl, color=light[grp], lw=2.4, zorder=2)
    ax.plot(wl, fl, color=dark[grp], lw=1.2, zorder=3)

lab = blended_transform_factory(ax.transAxes, ax.transData)
for txt, y in zip(epochs, epoch_y):
    ax.text(0.992, y, txt, transform=lab, ha='right', va='center', fontsize=9)

for txt, x, y in top_labels + bottom_labels:
    ax.text(x, y, txt, ha='center', va='center', fontsize=9)
ax.text(sum(telluric) / 2, -0.35, r'$\oplus$', ha='center', va='center', fontsize=11)

ax.text(0.989, 0.976, 'Spectral sequence of SN 2019cad', transform=ax.transAxes,
        ha='right', va='center', fontsize=8.8)

ax.set_xlim(3400, 10000)
ax.set_ylim(-0.6, 7.8)
ax.xaxis.set_major_locator(MultipleLocator(1000))
ax.xaxis.set_minor_locator(MultipleLocator(200))
ax.yaxis.set_major_locator(MultipleLocator(1))
ax.yaxis.set_minor_locator(MultipleLocator(0.2))
ax.tick_params(which='both', direction='in', top=False, right=False, labelleft=False,
               color='#444444', width=0.8)
ax.tick_params(which='major', length=5, labelsize=10.5)
ax.tick_params(which='minor', length=2.5)
for sp in ax.spines.values():
    sp.set_color('#444444')
    sp.set_linewidth(0.9)

ax.set_xlabel(r'Rest Wavelength [$\mathrm{\AA}$]', fontsize=11.5, labelpad=3)
ax.set_ylabel('Scaled flux + Constant', fontsize=11.5, labelpad=6)

fig.savefig('out.png', dpi=100)
